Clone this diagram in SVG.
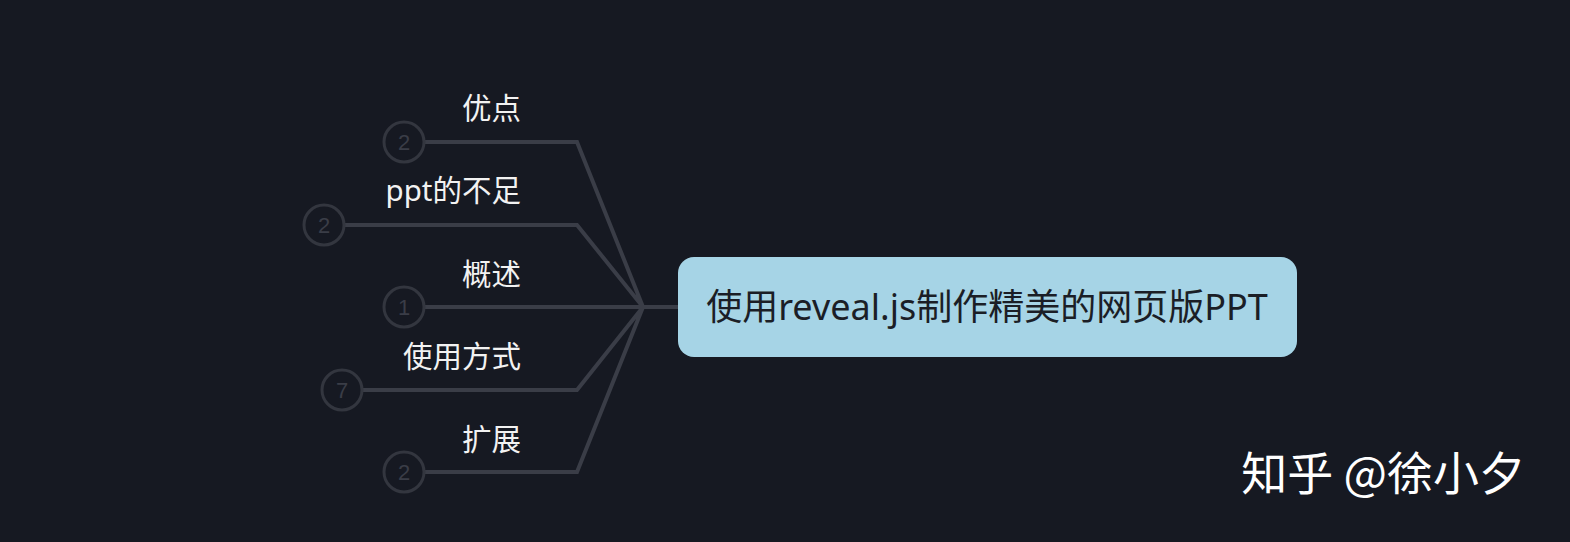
<svg xmlns="http://www.w3.org/2000/svg" width="1570" height="542" viewBox="0 0 1570 542">
<style>
.lbl{font-family:"Noto Sans","Noto Sans CJK SC",sans-serif;font-size:29.5px;fill:#f2f2f2;text-anchor:end}
.num{font-family:"Liberation Sans",sans-serif;font-size:22px;fill:#3a3d47;text-anchor:middle}
.cir{fill:none;stroke:#33363f;stroke-width:3}
.ln{fill:none;stroke:#3a3d47;stroke-width:4}
</style>
<rect width="1570" height="542" fill="#161922"/>
<g id="connectors">
<path class="ln" d="M424 142H577L643 307M344 225H577L643 307M424 307H678M362 390H577L643 307M424 472H577L643 307"/>
</g>
<g id="root">
<rect x="678" y="257" width="619" height="100" rx="16" fill="#a6d4e6"/>
<text x="987" y="320" style="font-family:'Noto Sans','Noto Sans CJK SC',sans-serif;font-size:36px;fill:#1b1e26;text-anchor:middle">使用reveal.js制作精美的网页版PPT</text>
</g>
<g id="n1"><text class="lbl" x="521" y="119">优点</text><circle class="cir" cx="404" cy="142" r="20"/><text class="num" x="404" y="150">2</text></g>
<g id="n2"><text class="lbl" x="521" y="201">ppt的不足</text><circle class="cir" cx="324" cy="225" r="20"/><text class="num" x="324" y="233">2</text></g>
<g id="n3"><text class="lbl" x="521" y="285">概述</text><circle class="cir" cx="404" cy="307" r="20"/><text class="num" x="404" y="315">1</text></g>
<g id="n4"><text class="lbl" x="521" y="367">使用方式</text><circle class="cir" cx="342" cy="390" r="20"/><text class="num" x="342" y="398">7</text></g>
<g id="n5"><text class="lbl" x="521" y="450">扩展</text><circle class="cir" cx="404" cy="472" r="20"/><text class="num" x="404" y="480">2</text></g>
<text x="1525" y="490" style="font-family:'Noto Sans CJK SC',sans-serif;font-size:46px;fill:#ffffff;text-anchor:end">知乎 @徐小夕</text>
</svg>
